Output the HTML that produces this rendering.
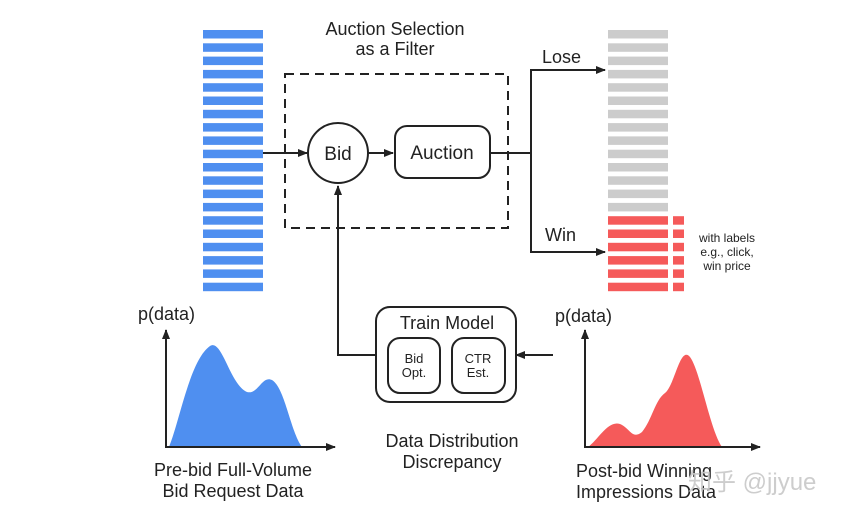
<!DOCTYPE html>
<html><head><meta charset="utf-8"><style>
html,body{margin:0;padding:0;background:#fff}
svg{display:block}
text{font-family:"Liberation Sans","Noto Sans CJK SC",sans-serif;fill:#222}
</style></head><body>
<svg width="848" height="517" viewBox="0 0 848 517" xmlns="http://www.w3.org/2000/svg">
<defs>
<marker id="a" markerWidth="10" markerHeight="8" refX="9" refY="4" orient="auto" markerUnits="userSpaceOnUse">
<path d="M0,0 L10,4 L0,8 z" fill="#222"/></marker>
</defs>
<g fill="#4f8ff0">
<rect x="203" y="30" width="60" height="8.5"/><rect x="203" y="43.3" width="60" height="8.5"/><rect x="203" y="56.6" width="60" height="8.5"/><rect x="203" y="69.9" width="60" height="8.5"/><rect x="203" y="83.2" width="60" height="8.5"/><rect x="203" y="96.5" width="60" height="8.5"/><rect x="203" y="109.8" width="60" height="8.5"/><rect x="203" y="123.1" width="60" height="8.5"/><rect x="203" y="136.4" width="60" height="8.5"/><rect x="203" y="149.7" width="60" height="8.5"/><rect x="203" y="163" width="60" height="8.5"/><rect x="203" y="176.3" width="60" height="8.5"/><rect x="203" y="189.6" width="60" height="8.5"/><rect x="203" y="202.9" width="60" height="8.5"/><rect x="203" y="216.2" width="60" height="8.5"/><rect x="203" y="229.5" width="60" height="8.5"/><rect x="203" y="242.8" width="60" height="8.5"/><rect x="203" y="256.1" width="60" height="8.5"/><rect x="203" y="269.4" width="60" height="8.5"/><rect x="203" y="282.7" width="60" height="8.5"/>
</g>
<g fill="#cccccc">
<rect x="608" y="30" width="60" height="8.5"/><rect x="608" y="43.3" width="60" height="8.5"/><rect x="608" y="56.6" width="60" height="8.5"/><rect x="608" y="69.9" width="60" height="8.5"/><rect x="608" y="83.2" width="60" height="8.5"/><rect x="608" y="96.5" width="60" height="8.5"/><rect x="608" y="109.8" width="60" height="8.5"/><rect x="608" y="123.1" width="60" height="8.5"/><rect x="608" y="136.4" width="60" height="8.5"/><rect x="608" y="149.7" width="60" height="8.5"/><rect x="608" y="163" width="60" height="8.5"/><rect x="608" y="176.3" width="60" height="8.5"/><rect x="608" y="189.6" width="60" height="8.5"/><rect x="608" y="202.9" width="60" height="8.5"/>
</g>
<g fill="#f55a5a">
<rect x="608" y="216.2" width="60" height="8.5"/><rect x="608" y="229.5" width="60" height="8.5"/><rect x="608" y="242.8" width="60" height="8.5"/><rect x="608" y="256.1" width="60" height="8.5"/><rect x="608" y="269.4" width="60" height="8.5"/><rect x="608" y="282.7" width="60" height="8.5"/>
<rect x="673" y="216.2" width="11" height="8.5"/><rect x="673" y="229.5" width="11" height="8.5"/><rect x="673" y="242.8" width="11" height="8.5"/><rect x="673" y="256.1" width="11" height="8.5"/><rect x="673" y="269.4" width="11" height="8.5"/><rect x="673" y="282.7" width="11" height="8.5"/>
</g>
<text x="395" y="35" font-size="18" text-anchor="middle">Auction Selection</text>
<text x="395" y="55" font-size="18" text-anchor="middle">as a Filter</text>
<rect x="285" y="74" width="223" height="154" fill="none" stroke="#222" stroke-width="2" stroke-dasharray="9,6"/>
<circle cx="338" cy="153" r="30" fill="#fff" stroke="#222" stroke-width="2"/>
<text x="338" y="160" font-size="19" text-anchor="middle">Bid</text>
<rect x="395" y="126" width="95" height="52" rx="12" fill="#fff" stroke="#222" stroke-width="2"/>
<text x="442" y="159" font-size="19" text-anchor="middle">Auction</text>
<g stroke="#222" stroke-width="2" fill="none">
<line x1="263" y1="153" x2="307" y2="153" marker-end="url(#a)"/>
<line x1="368" y1="153" x2="393" y2="153" marker-end="url(#a)"/>
<line x1="490" y1="153" x2="531" y2="153"/>
<polyline points="605,70 531,70 531,252 605,252"/>
<line x1="595" y1="70" x2="605" y2="70" marker-end="url(#a)"/>
<line x1="595" y1="252" x2="605" y2="252" marker-end="url(#a)"/>
<polyline points="376,355 338,355 338,186"/>
<line x1="338" y1="200" x2="338" y2="186" marker-end="url(#a)"/>
<line x1="553" y1="355" x2="516" y2="355" marker-end="url(#a)"/>
</g>
<text x="542" y="63" font-size="18">Lose</text>
<text x="545" y="241" font-size="18">Win</text>
<text x="727" y="242" font-size="12" text-anchor="middle">with labels</text>
<text x="727" y="256" font-size="12" text-anchor="middle">e.g., click,</text>
<text x="727" y="270" font-size="12" text-anchor="middle">win price</text>
<rect x="376" y="307" width="140" height="95" rx="14" fill="#fff" stroke="#222" stroke-width="2"/>
<text x="447" y="329" font-size="18" text-anchor="middle">Train Model</text>
<rect x="388" y="338" width="52" height="55" rx="12" fill="#fff" stroke="#222" stroke-width="2"/>
<rect x="452" y="338" width="53" height="55" rx="12" fill="#fff" stroke="#222" stroke-width="2"/>
<text x="414" y="363" font-size="13" text-anchor="middle">Bid</text>
<text x="414" y="377" font-size="13" text-anchor="middle">Opt.</text>
<text x="478" y="363" font-size="13" text-anchor="middle">CTR</text>
<text x="478" y="377" font-size="13" text-anchor="middle">Est.</text>
<text x="452" y="447" font-size="18" text-anchor="middle">Data Distribution</text>
<text x="452" y="468" font-size="18" text-anchor="middle">Discrepancy</text>
<path d="M169,447 C180,420 190,360 210,346 C222,338 230,385 247,392 C258,395 262,375 272,380 C285,388 290,430 302,447 Z" fill="#4f8ff0"/>
<g stroke="#222" stroke-width="2" fill="none">
<polyline points="166,330 166,447 335,447"/>
<line x1="166" y1="340" x2="166" y2="330" marker-end="url(#a)"/>
<line x1="325" y1="447" x2="335" y2="447" marker-end="url(#a)"/>
</g>
<text x="138" y="320" font-size="18">p(data)</text>
<text x="233" y="476" font-size="18" text-anchor="middle">Pre-bid Full-Volume</text>
<text x="233" y="497" font-size="18" text-anchor="middle">Bid Request Data</text>
<path d="M588,447 C598,440 608,420 620,424 C630,428 632,440 642,432 C652,420 655,400 665,393 C675,385 680,345 690,357 C700,370 710,430 722,447 Z" fill="#f55a5a"/>
<g stroke="#222" stroke-width="2" fill="none">
<polyline points="585,330 585,447 760,447"/>
<line x1="585" y1="340" x2="585" y2="330" marker-end="url(#a)"/>
<line x1="750" y1="447" x2="760" y2="447" marker-end="url(#a)"/>
</g>
<text x="555" y="322" font-size="18">p(data)</text>
<text x="576" y="477" font-size="18">Post-bid Winning</text>
<text x="576" y="498" font-size="18">Impressions Data</text>
<text x="688" y="490" font-size="24" style="fill:#c8c8c8;opacity:0.9">知乎 @jjyue</text>
</svg>
</body></html>
